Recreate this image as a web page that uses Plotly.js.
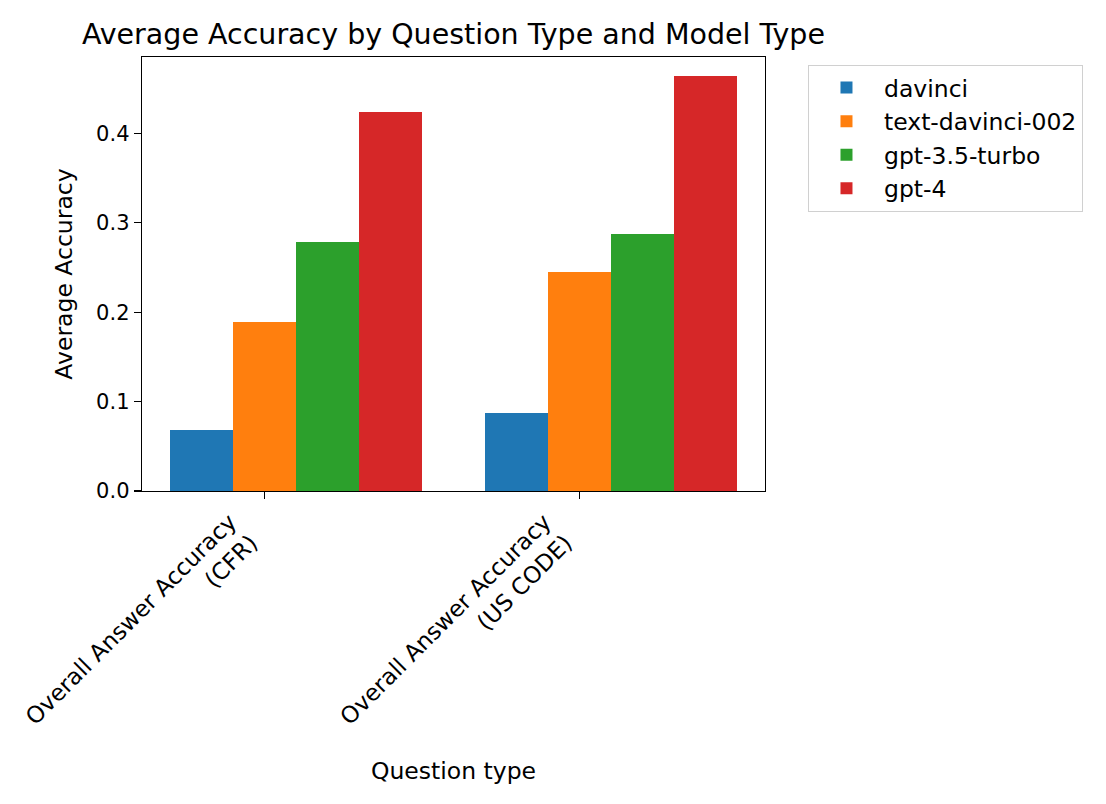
<!DOCTYPE html>
<html>
<head>
<meta charset="utf-8">
<script src="https://cdn.plot.ly/plotly-3.0.1.min.js"></script>
<style>
  html, body { margin: 0; padding: 0; background: #fff; }
  #plot { width: 1106px; height: 804px; }
</style>
</head>
<body>
<div id="plot"></div>
<script>
// Question types (x categories) and model series
const questionTypes = [
    "Overall Answer Accuracy<br>(CFR)",
    "Overall Answer Accuracy<br>(US CODE)"
];
const models = ["davinci", "text-davinci-002", "gpt-3.5-turbo", "gpt-4"];
const colors = ["#1f77b4", "#ff7f0e", "#2ca02c", "#d62728"];

const davinci = [0.068, 0.087];
const textDavinci002 = [0.189, 0.245];
const gpt35Turbo = [0.279, 0.287];
const gpt4 = [0.424, 0.464];

const seriesValues = [davinci, textDavinci002, gpt35Turbo, gpt4];

const barWidth = 0.2;
const font = "DejaVu Sans, sans-serif";

// bars sit at index + j*width, ticks on the second bar (like the matplotlib original)
const traces = models.map((name, j) => ({
    type: "bar",
    name: name,
    legendgroup: name,
    x: questionTypes.map((q, i) => i + j * barWidth),
    y: seriesValues[j],
    width: barWidth,
    marker: { color: colors[j], line: { width: 0 } },
    hoverinfo: "name+y"
}));

const layout = {
    width: 1106,
    height: 804,
    margin: { l: 142, r: 341, t: 57, b: 313 },
    paper_bgcolor: "#fff",
    plot_bgcolor: "#fff",
    font: { family: font, size: 22, color: "#000" },
    title: {
        text: "Average Accuracy by Question Type and Model Type",
        font: { family: font, size: 28.5, color: "#000" },
        x: 0.41, xanchor: "center",
        y: 0.958, yanchor: "middle"
    },
    xaxis: {
        range: [-0.19, 1.79],
        tickvals: questionTypes.map((q, i) => i + barWidth),
        ticktext: questionTypes,
        tickangle: -45,
        ticklabelshift: -35,
        ticks: "outside", ticklen: 7, tickwidth: 1.3, tickcolor: "#000",
        tickfont: { family: font, size: 23, color: "#000" },
        showline: true, linecolor: "#000", linewidth: 1.3, mirror: true,
        showgrid: false, zeroline: false,
        title: { text: "Question type", font: { family: font, size: 23.5, color: "#000" }, standoff: 12 }
    },
    yaxis: {
        range: [0, 0.4855],
        tickvals: [0, 0.1, 0.2, 0.3, 0.4],
        ticktext: ["0.0", "0.1", "0.2", "0.3", "0.4"],
        ticks: "outside", ticklen: 7, tickwidth: 1.3, tickcolor: "#000",
        tickfont: { family: font, size: 21, color: "#000" },
        showline: true, linecolor: "#000", linewidth: 1.3, mirror: true,
        showgrid: false, zeroline: false,
        title: { text: "Average Accuracy", font: { family: font, size: 23.5, color: "#000" }, standoff: 17 }
    },
    showlegend: true,
    legend: {
        x: 1.069, y: 0.982, xanchor: "left", yanchor: "top",
        bgcolor: "#fff", bordercolor: "#d0d0d0", borderwidth: 1,
        font: { family: font, size: 23.5, color: "#000" },
        traceorder: "normal",
        tracegroupgap: 16,
        itemwidth: 65
    },
    bargap: 0
};

Plotly.newPlot("plot", traces, layout, { displayModeBar: false, staticPlot: true });
</script>
</body>
</html>
